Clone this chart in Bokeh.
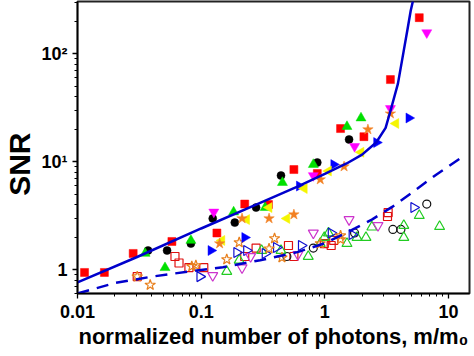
import math
from bokeh.plotting import figure
from bokeh.models import FixedTicker, CustomJSTickFormatter
from bokeh.embed import file_html
from bokeh.resources import INLINE

# ---------------- data ----------------
# filled symbols (upper group)
red_sq_m   = [0.0114, 0.0165, 0.0282, 0.058, 0.134, 0.225, 0.35, 0.562, 0.869, 1.34, 2.07, 3.39, 5.80]
red_sq_snr = [0.94, 0.94, 1.41, 1.82, 2.18, 4.04, 4.0, 8.43, 7.74, 20.2, 17.0, 57.4, 215]

blk_ci_m   = [0.0372, 0.053, 0.0826, 0.124, 0.187, 0.278, 0.442, 0.869, 1.57]
blk_ci_snr = [1.50, 1.50, 1.74, 2.97, 2.72, 3.75, 7.42, 9.79, 16.0]

grn_up_m   = [0.0352, 0.051, 0.0826, 0.183, 0.329, 0.454, 0.807, 1.51, 1.96]
grn_up_snr = [1.41, 1.04, 1.86, 3.41, 3.75, 6.39, 9.38, 21.1, 25.3]

mag_dn_m   = [0.1265, 0.807, 1.74, 3.39, 6.67]
mag_dn_snr = [3.41, 7.42, 13.8, 31.0, 156]

blu_rt_m   = [0.120, 0.225, 0.622, 1.18, 2.62, 4.78]
blu_rt_snr = [1.50, 1.98, 5.93, 9.38, 15.0, 25.3]

yel_lt_m   = [0.147, 0.233, 0.354, 0.493, 0.682, 1.07, 1.96, 3.75]
yel_lt_snr = [1.86, 2.90, 3.75, 2.97, 5.62, 8.17, 12.2, 22.5]

org_st_m   = [0.141, 0.214, 0.354, 0.562, 0.918, 1.43, 2.23, 3.39]
org_st_snr = [1.74, 2.97, 2.97, 3.23, 6.81, 8.99, 19.8, 27.8]

# open symbols (lower group)
red_osq_m   = [0.0304, 0.0614, 0.0662, 0.0796, 0.105, 0.225, 0.278, 0.508, 0.562, 0.99, 1.125, 1.18, 3.21, 3.25]
red_osq_snr = [0.86, 1.32, 1.15, 1.04, 1.04, 1.32, 1.58, 1.67, 1.32, 1.74, 1.67, 1.86, 3.10, 3.37]

blk_oci_m   = [0.493, 0.807, 1.74, 3.55, 4.12, 6.67]
blk_oci_snr = [1.32, 1.58, 2.18, 2.35, 2.35, 4.04]

grn_oup_m   = [0.161, 0.203, 0.308, 0.442, 0.734, 0.918, 0.99, 1.07, 1.51, 1.82, 2.15, 2.40, 4.35, 4.35, 5.80, 8.47]
grn_oup_snr = [0.96, 1.22, 1.50, 1.50, 1.32, 1.74, 1.98, 2.18, 1.74, 1.98, 1.98, 2.47, 2.56, 1.98, 3.16, 2.50]

blu_ort_m   = [0.0976, 0.194, 0.233, 0.329, 0.406, 0.646, 1.125, 1.66, 5.24]
blu_ort_snr = [0.86, 1.44, 1.50, 1.41, 1.60, 1.67, 2.18, 2.11, 3.75]

mag_odn_m   = [0.124, 0.214, 0.251, 0.605, 0.807, 1.57, 2.69]
mag_odn_snr = [0.88, 1.04, 1.32, 1.38, 2.18, 2.90, 2.56]

org_ost_m   = [0.0304, 0.0387, 0.084, 0.0906, 0.161, 0.203, 0.354, 0.392, 0.45, 0.918, 1.34, 1.34]
org_ost_snr = [0.86, 0.72, 1.07, 1.09, 1.24, 1.78, 1.56, 1.94, 1.29, 1.74, 2.06, 1.90]

# theory curves
solid_m   = [0.01, 0.03, 0.1, 0.3, 0.6, 1.0, 1.5, 2.0, 2.6, 3.1, 3.4, 3.9, 4.35, 4.65, 4.95, 5.15]
solid_snr = [0.76, 1.3, 2.4, 4.15, 5.85, 7.7, 9.6, 11.6, 15.0, 20.5, 29.7, 52.7, 107, 165, 250, 305]

dash_m   = [0.01, 0.02, 0.04, 0.08, 0.15, 0.3, 0.6, 1.0, 1.75, 2.4, 3.5, 5.0, 8.0, 13.0]
dash_snr = [0.60, 0.75, 0.86, 0.96, 1.05, 1.22, 1.45, 1.75, 2.4, 2.9, 3.8, 5.1, 7.6, 11.1]

# axes
x_ticks = [0.01, 0.1, 1, 10]
x_labels = ["0.01", "0.1", "1", "10"]
y_ticks = [1, 10, 100]
y_labels = ["1", "10\u00b9", "10\u00b2"]
x_title = "normalized number of photons, m/m\u2080"
y_title = "SNR"

FONT = "Liberation Sans"
NBSP = "\u00a0"

p = figure(width=474, height=356, x_axis_type="log", y_axis_type="log",
           x_range=(0.01, 14.78), y_range=(0.6, 303.4),
           output_backend="svg", toolbar_location=None,
           min_border_left=75, min_border_right=5, min_border_top=1, min_border_bottom=63)
p.background_fill_color = "white"
p.border_fill_color = "white"
p.grid.visible = False
p.outline_line_color = "#222222"
p.outline_line_width = 2

def minor_of(lo, hi):
    out = []
    for k in range(lo, hi):
        for d in range(2, 10):
            out.append(d * 10.0 ** k)
    return out

fmt_js = ("for (let i=0;i<vals.length;i++){ if (Math.abs(Math.log10(tick)-Math.log10(vals[i]))<1e-6) return labs[i]; } return '';")
p.xaxis.ticker = FixedTicker(ticks=x_ticks, minor_ticks=minor_of(-2, 2))
p.xaxis.formatter = CustomJSTickFormatter(args=dict(vals=x_ticks, labs=x_labels), code=fmt_js)
p.yaxis.ticker = FixedTicker(ticks=y_ticks, minor_ticks=[0.6, 0.7, 0.8, 0.9] + minor_of(0, 2) + [200, 300])
p.yaxis.formatter = CustomJSTickFormatter(args=dict(vals=y_ticks, labs=y_labels), code=fmt_js)

for ax in (p.xaxis, p.yaxis):
    ax.axis_line_color = "black"
    ax.axis_line_width = 1.5
    ax.major_tick_line_color = "black"
    ax.minor_tick_line_color = "black"
    ax.major_tick_line_width = 1.3
    ax.minor_tick_line_width = 1.0
    ax.major_tick_in = 0
    ax.major_tick_out = 5
    ax.minor_tick_in = 0
    ax.minor_tick_out = 3
    ax.major_label_text_font = FONT
    ax.major_label_text_font_style = "bold"
    ax.major_label_text_font_size = "18px"
    ax.major_label_text_color = "black"
    ax.axis_label_text_font = FONT
    ax.axis_label_text_font_style = "bold"
    ax.axis_label_text_color = "black"
p.xaxis.major_label_standoff = 6
p.yaxis.major_label_standoff = 5

p.xaxis.axis_label = x_title
p.xaxis.axis_label_text_font_size = "22px"
p.xaxis.axis_label_standoff = 3
p.yaxis.axis_label = y_title + NBSP * 4
p.yaxis.axis_label_text_font_size = "30px"
p.yaxis.axis_label_standoff = 2

# ---------- markers ----------
def filled(m, s, marker, color, size, angle=0.0):
    p.scatter(m, s, marker=marker, size=size, fill_color=color, line_color=color,
              line_width=0.5, angle=angle)

def hollow(m, s, marker, color, size, angle=0.0):
    p.scatter(m, s, marker=marker, size=size, fill_color=None, line_color=color,
              line_width=1.2, angle=angle)

hollow(red_osq_m, red_osq_snr, "square", "#E01010", 8)
hollow(blk_oci_m, blk_oci_snr, "circle", "#111111", 8)
hollow(grn_oup_m, grn_oup_snr, "triangle", "#22CC22", 10)
hollow(blu_ort_m, blu_ort_snr, "triangle", "#1010D0", 10, -math.pi / 2)
hollow(mag_odn_m, mag_odn_snr, "inverted_triangle", "#CC33CC", 10)
hollow(org_ost_m, org_ost_snr, "star", "#E8801E", 11)

filled(red_sq_m, red_sq_snr, "square", "#FF0000", 8)
filled(blk_ci_m, blk_ci_snr, "circle", "#000000", 8)
filled(grn_up_m, grn_up_snr, "triangle", "#00E000", 10)
filled(blu_rt_m, blu_rt_snr, "triangle", "#0000FF", 10, -math.pi / 2)
filled(mag_dn_m, mag_dn_snr, "inverted_triangle", "#FF00FF", 10)
filled(yel_lt_m, yel_lt_snr, "triangle", "#F5F500", 10, math.pi / 2)
filled(org_st_m, org_st_snr, "star", "#F28022", 11)

# ---------- curves ----------
p.line(solid_m, solid_snr, line_color="#0000CC", line_width=2.5)
p.line(dash_m, dash_snr, line_color="#0000CC", line_width=2.5, line_dash="12 8")

open("out.html", "w").write(file_html(p, INLINE))
